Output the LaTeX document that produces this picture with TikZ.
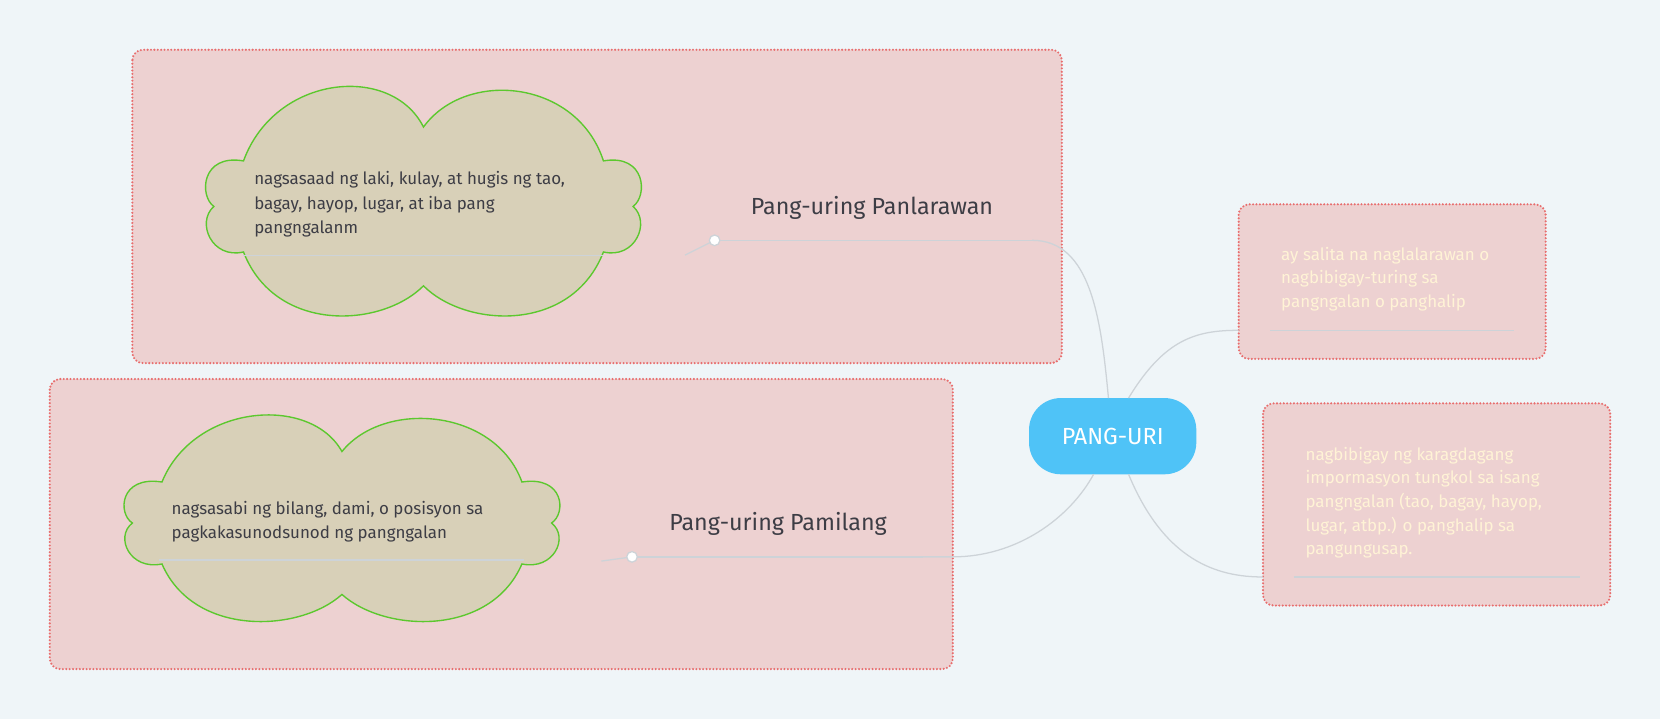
\documentclass[tikz,border=0pt]{standalone}
\usepackage{fontspec}
\setmainfont{Fira Sans}
\definecolor{bg}{HTML}{EFF5F8}
\definecolor{boxf}{HTML}{EDD1D1}
\definecolor{boxd}{HTML}{E86D6D}
\definecolor{cloudf}{HTML}{D8D0B8}
\definecolor{cloudd}{HTML}{5CC82E}
\definecolor{txt}{HTML}{3D3D45}
\definecolor{cream}{HTML}{FFF3D6}
\definecolor{conn}{HTML}{CDD3D8}
\definecolor{central}{HTML}{4FC3F7}
\newcommand\mycloud{(-170,-43) .. controls (-140,-125) and (-30,-135) .. (0,-75)
 .. controls (40,-130) and (145,-120) .. (170,-43)
 .. controls (210,-50) and (212,-10) .. (198,0)
 .. controls (215,15) and (200,50) .. (170,43)
 .. controls (140,120) and (40,115) .. (0,75)
 .. controls (-40,115) and (-140,120) .. (-170,43)
 .. controls (-200,50) and (-215,15) .. (-198,0)
 .. controls (-212,-10) and (-210,-50) .. (-170,-43) -- cycle}
\begin{document}
\begin{tikzpicture}[x=1pt,y=-1pt,
 dbox/.style={fill=boxf,draw=boxd,line width=2.2pt,dash pattern=on 0pt off 3.2pt,line cap=round,rounded corners=10pt},
 cloudst/.style={fill=cloudf,draw=cloudd,line width=1.3pt},
 ctext/.style={anchor=north west,align=left,text=txt,inner sep=0pt,font=\fontsize{16}{23}\selectfont},
 wtext/.style={anchor=north west,align=left,text=cream,inner sep=0pt,font=\fontsize{16}{22.3}\selectfont},
 ltext/.style={anchor=west,text=txt,inner sep=0pt,font=\fontsize{22}{26}\selectfont},
 cl/.style={draw=conn,line width=1.2pt},
 knob/.style={circle,fill=white,draw=conn,line width=1.2pt,minimum size=10pt,inner sep=0pt}]
\useasboundingbox[fill=bg] (0,0) rectangle (1568,679);
% boxes
\draw[dbox] (125,47) rectangle (1003,343);
\draw[dbox] (47,358) rectangle (900,632);
\draw[dbox] (1170,193) rectangle (1460,339);
\draw[dbox] (1193,381) rectangle (1521,572);
% central
\node[fill=central,rounded corners=30pt,minimum width=158pt,minimum height=72pt,text=white,font=\fontsize{22}{26}\selectfont] (c) at (1051,412) {PANG-URI};
% clouds
\begin{scope}[shift={(400,195)}]\draw[cloudst] \mycloud;\end{scope}
\begin{scope}[shift={(323,494)},yscale=0.9]\draw[cloudst] \mycloud;\end{scope}
% cloud texts
\node[ctext] (t1) at (240,162) {nagsasaad ng laki, kulay, at hugis ng tao,\\bagay, hayop, lugar, at iba pang\\pangngalanm};
\draw[cl] (230,241) -- (570,241);
\node[ctext] (t2) at (162,473) {nagsasabi ng bilang, dami, o posisyon sa\\pagkakasunodsunod ng pangngalan};
\draw[cl] (150,529) -- (495,529);
% labels
\node[ltext] (l1) at (709,196) {Pang-uring Panlarawan};
\node[ltext] (l2) at (632,495) {Pang-uring Pamilang};
\coordinate (u1a) at (675,227); \coordinate (u1b) at (975,227);
\coordinate (u2a) at (597,526); \coordinate (u2b) at (872,526);
\draw[cl] (u1a) -- (u1b);
\draw[cl] (647,241) -- (u1a);
\node[knob] (k1) at (u1a) {};
\draw[cl] (u2a) -- (u2b);
\draw[cl] (568,530) -- (u2a);
\node[knob] (k2) at (u2a) {};
% right texts
\node[wtext] (r1) at (1210,233) {ay salita na naglalarawan o\\nagbibigay-turing sa\\pangngalan o panghalip};
\draw[cl] (1200,312) -- (1430,312);
\node[wtext] (r2) at (1233,422) {nagbibigay ng karagdagang\\impormasyon tungkol sa isang\\pangngalan (tao, bagay, hayop,\\lugar, atbp.) o panghalip sa\\pangungusap.};
\draw[cl] (1222,545) -- (1492,545);
% connectors
\draw[cl] (u1b) .. controls (1030,227) and (1040,300) .. (1047,376);
\draw[cl] (u2b) -- (900,526) .. controls (960,526) and (1010,490) .. (1033,448);
\draw[cl] (1066,376) .. controls (1100,320) and (1130,312) .. (1170,312);
\draw[cl] (1066,448) .. controls (1100,530) and (1150,545) .. (1193,545);
\end{tikzpicture}
\end{document}
